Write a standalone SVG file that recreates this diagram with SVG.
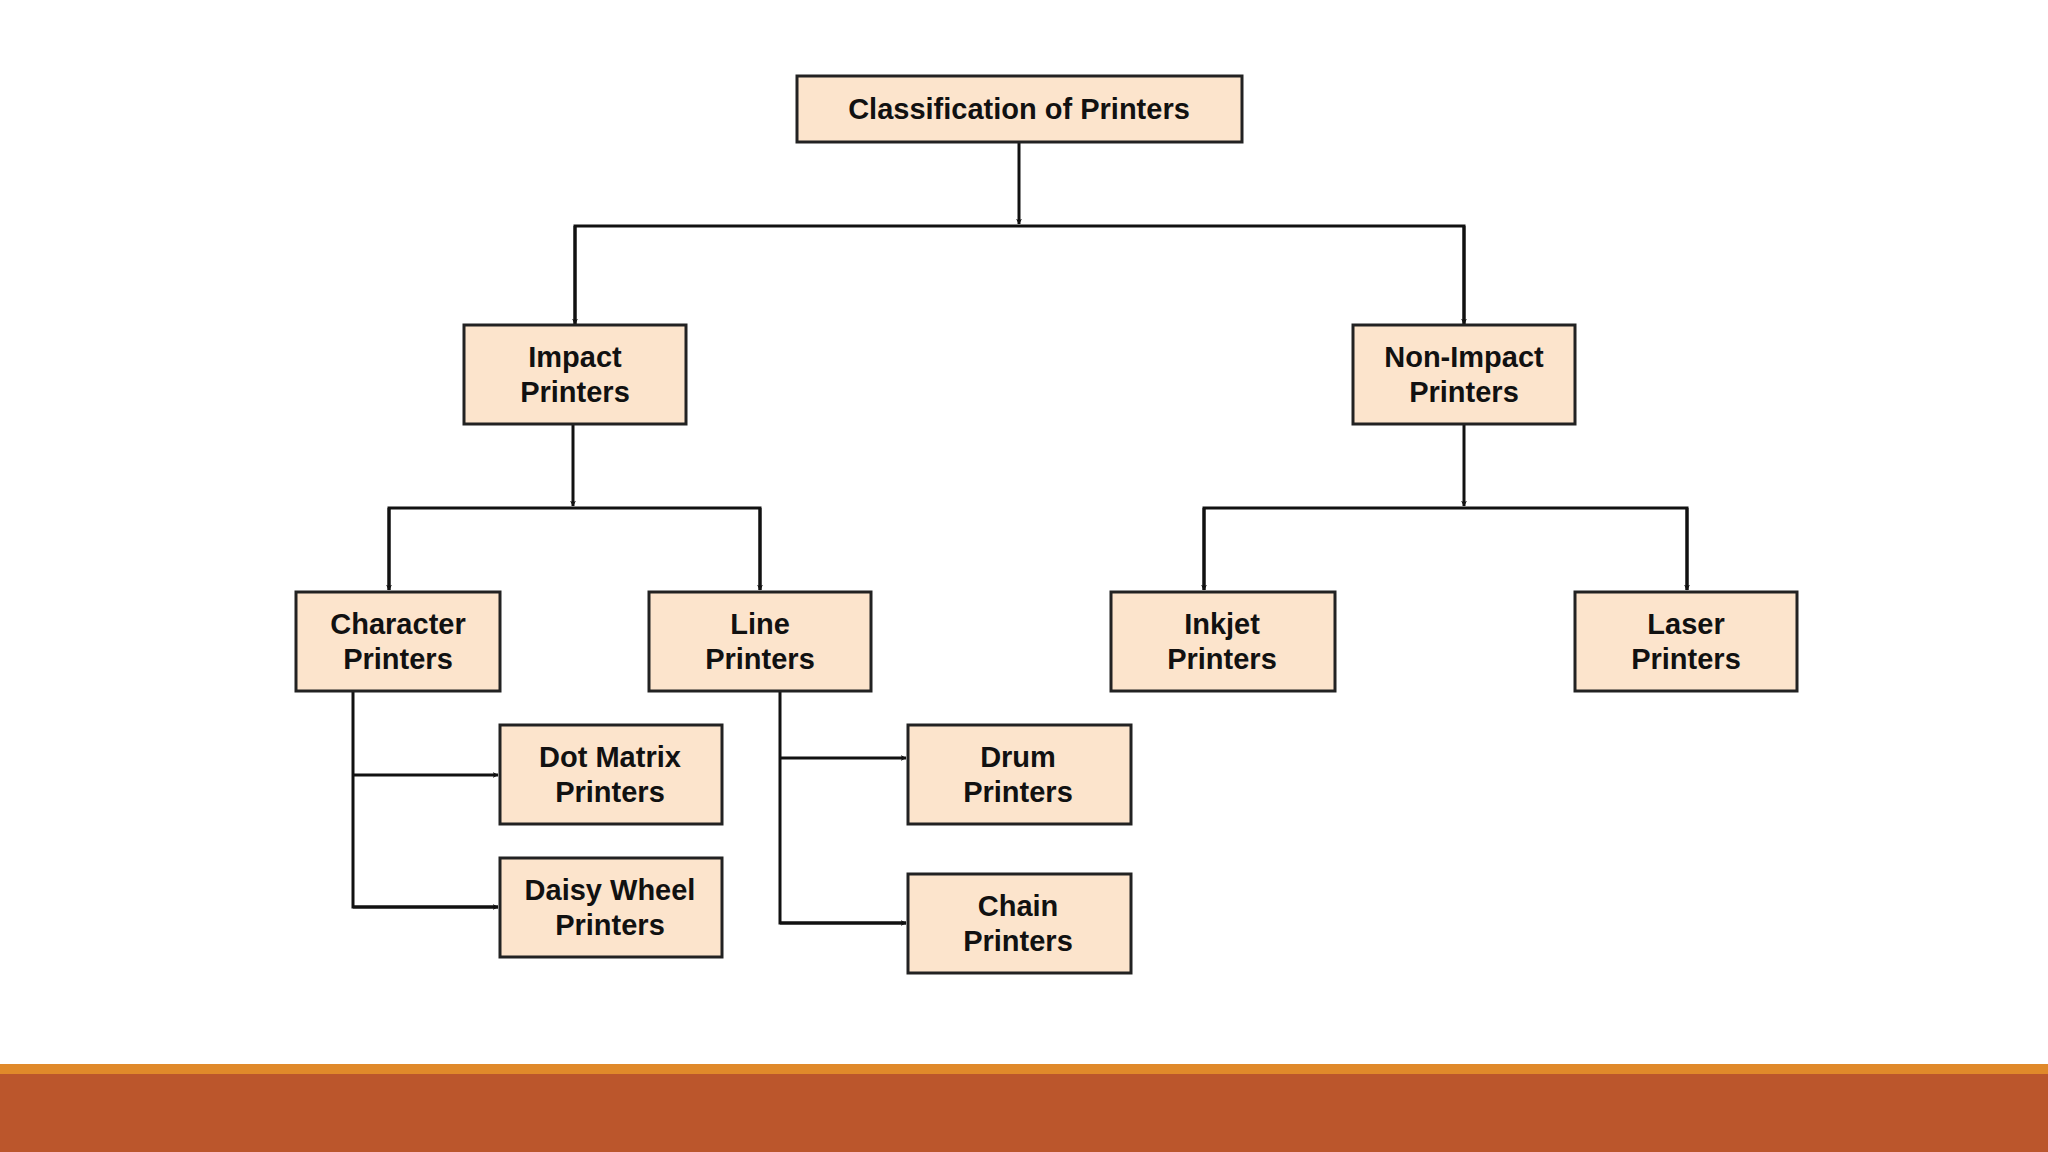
<svg xmlns="http://www.w3.org/2000/svg" width="2048" height="1152" viewBox="0 0 2048 1152">
<defs>
<style>
.b{fill:#fce4cc;stroke:#222;stroke-width:3}
.t{font-family:"Liberation Sans",Arial,sans-serif;font-weight:bold;font-size:29px;fill:#111;text-anchor:middle}
.c{fill:none;stroke:#111;stroke-width:3}
</style>
<marker id="a" viewBox="0 0 10 10" refX="9" refY="5" markerWidth="6" markerHeight="6" orient="auto" markerUnits="userSpaceOnUse" ><path d="M0,0L10,5L0,10L3,5z" fill="#111"/></marker>
</defs>
<rect width="2048" height="1152" fill="#fff"/>
<rect y="1064" width="2048" height="10" fill="#e0892a"/>
<rect y="1074" width="2048" height="78" fill="#bb562c"/>
<g id="connectors">
<path class="c" d="M1019,142V224" marker-end="url(#a)" style="marker-end:url(#a)"/>
<path class="c" d="M575,324V226H1464V324" />
<path class="c" d="M575,226V324" marker-end="url(#a)"/>
<path class="c" d="M1464,226V324" marker-end="url(#a)"/>
<path class="c" d="M573,424V506" marker-end="url(#a)"/>
<path class="c" d="M389,590V508H760V590"/>
<path class="c" d="M389,508V590" marker-end="url(#a)"/>
<path class="c" d="M760,508V590" marker-end="url(#a)"/>
<path class="c" d="M1464,424V506" marker-end="url(#a)"/>
<path class="c" d="M1204,590V508H1687V590"/>
<path class="c" d="M1204,508V590" marker-end="url(#a)"/>
<path class="c" d="M1687,508V590" marker-end="url(#a)"/>
<path class="c" d="M353,691V907H498"/>
<path class="c" d="M353,775H498" marker-end="url(#a)"/>
<path class="c" d="M353,907H498" marker-end="url(#a)"/>
<path class="c" d="M780,691V923H906"/>
<path class="c" d="M780,758H906" marker-end="url(#a)"/>
<path class="c" d="M780,923H906" marker-end="url(#a)"/>
</g>
<g id="root"><rect class="b" x="797" y="76" width="445" height="66"/><text class="t" x="1019" y="119">Classification of Printers</text></g>
<g id="impact"><rect class="b" x="464" y="325" width="222" height="99"/><text class="t" x="575" y="367">Impact</text><text class="t" x="575" y="402">Printers</text></g>
<g id="nonimpact"><rect class="b" x="1353" y="325" width="222" height="99"/><text class="t" x="1464" y="367">Non-Impact</text><text class="t" x="1464" y="402">Printers</text></g>
<g id="character"><rect class="b" x="296" y="592" width="204" height="99"/><text class="t" x="398" y="634">Character</text><text class="t" x="398" y="669">Printers</text></g>
<g id="line"><rect class="b" x="649" y="592" width="222" height="99"/><text class="t" x="760" y="634">Line</text><text class="t" x="760" y="669">Printers</text></g>
<g id="inkjet"><rect class="b" x="1111" y="592" width="224" height="99"/><text class="t" x="1222" y="634">Inkjet</text><text class="t" x="1222" y="669">Printers</text></g>
<g id="laser"><rect class="b" x="1575" y="592" width="222" height="99"/><text class="t" x="1686" y="634">Laser</text><text class="t" x="1686" y="669">Printers</text></g>
<g id="dotmatrix"><rect class="b" x="500" y="725" width="222" height="99"/><text class="t" x="610" y="767">Dot Matrix</text><text class="t" x="610" y="802">Printers</text></g>
<g id="daisy"><rect class="b" x="500" y="858" width="222" height="99"/><text class="t" x="610" y="900">Daisy Wheel</text><text class="t" x="610" y="935">Printers</text></g>
<g id="drum"><rect class="b" x="908" y="725" width="223" height="99"/><text class="t" x="1018" y="767">Drum</text><text class="t" x="1018" y="802">Printers</text></g>
<g id="chain"><rect class="b" x="908" y="874" width="223" height="99"/><text class="t" x="1018" y="916">Chain</text><text class="t" x="1018" y="951">Printers</text></g>
</svg>
